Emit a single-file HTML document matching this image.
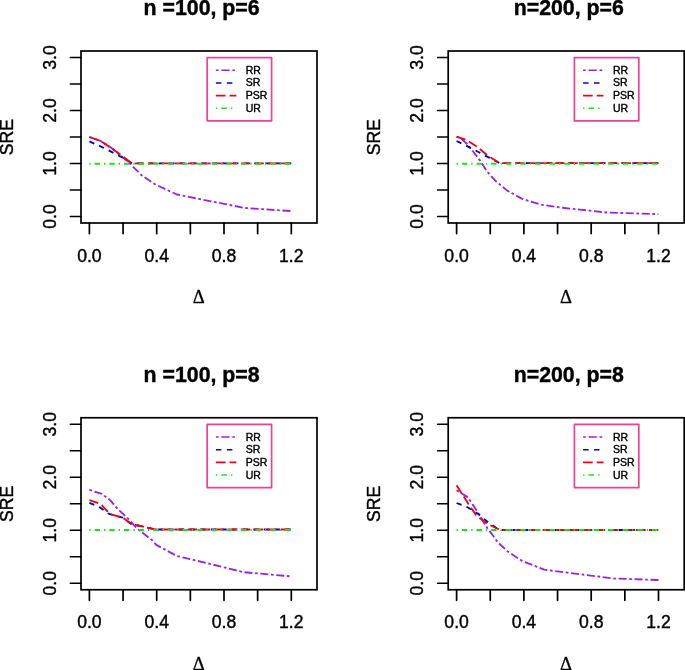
<!DOCTYPE html>
<html><head><meta charset="utf-8"><title>SRE plots</title>
<style>
html,body{margin:0;padding:0;background:#fff}
svg{display:block}
.s{font-family:"Liberation Sans",sans-serif;fill:#000;stroke:#000;stroke-width:0.4px}
.r{font-family:"Liberation Serif","DejaVu Serif",serif;fill:#000;stroke:#000;stroke-width:0.3px}
</style></head><body>
<svg width="685" height="670" viewBox="0 0 685 670">
<rect width="685" height="670" fill="#fff"/>
<g>
<rect x="81.00" y="51.00" width="236.00" height="172.00" fill="none" stroke="#000" stroke-width="1.7"/>
<path d="M89.40 223.00v10.55M123.05 223.00v10.55M156.70 223.00v10.55M190.35 223.00v10.55M224.00 223.00v10.55M257.65 223.00v10.55M291.30 223.00v10.55M81.00 216.50h-10.55M81.00 190.00h-10.55M81.00 163.50h-10.55M81.00 137.00h-10.55M81.00 110.50h-10.55M81.00 84.00h-10.55M81.00 57.50h-10.55" fill="none" stroke="#000" stroke-width="1.7" stroke-linecap="round"/>
<text x="89.40" y="261.70" font-size="17.6" text-anchor="middle" class="s">0.0</text>
<text x="156.70" y="261.70" font-size="17.6" text-anchor="middle" class="s">0.4</text>
<text x="224.00" y="261.70" font-size="17.6" text-anchor="middle" class="s">0.8</text>
<text x="291.30" y="261.70" font-size="17.6" text-anchor="middle" class="s">1.2</text>
<text transform="translate(55.60 216.50) rotate(-90)" font-size="17.6" text-anchor="middle" class="s">0.0</text>
<text transform="translate(55.60 163.50) rotate(-90)" font-size="17.6" text-anchor="middle" class="s">1.0</text>
<text transform="translate(55.60 110.50) rotate(-90)" font-size="17.6" text-anchor="middle" class="s">2.0</text>
<text transform="translate(55.60 57.50) rotate(-90)" font-size="17.6" text-anchor="middle" class="s">3.0</text>
<text x="198.80" y="303.30" font-size="18.6" text-anchor="middle" class="r">Δ</text>
<text transform="translate(12.80 137.20) rotate(-90)" font-size="17.6" text-anchor="middle" class="s">SRE</text>
<text x="201.60" y="15.30" font-size="21.3" text-anchor="middle" font-weight="bold" class="s">n =100, p=6</text>
<polyline points="89.4,137.0 100.6,140.9 111.3,147.8 119.5,154.6 130.2,163.9 141.9,175.5 155.0,184.3 176.9,194.5 210.0,201.1 245.0,208.0 291.3,211.1" fill="none" stroke="#9A22E6" stroke-width="1.85" stroke-dasharray="2.66,2.66,7.98,2.66" stroke-linejoin="round"/>
<polyline points="89.4,141.4 100.6,146.3 111.5,151.8 122.5,157.6 131.3,162.9 133.5,163.3 291.3,163.3" fill="none" stroke="#0000CD" stroke-width="1.85" stroke-dasharray="5.32,5.32" stroke-linejoin="round"/>
<polyline points="89.4,137.0 100.6,140.9 119.0,153.6 131.3,162.9 133.5,163.3 291.3,163.3" fill="none" stroke="#E8050F" stroke-width="1.85" stroke-dasharray="9.31,3.99" stroke-linejoin="round"/>
<path d="M89.40 163.70H291.30" fill="none" stroke="#14E614" stroke-width="2.05" stroke-dasharray="1.33,3.99,5.32,3.99"/>
<rect x="207.20" y="57.60" width="64.40" height="63.20" fill="#fff" stroke="#EF4193" stroke-width="1.7" stroke-linejoin="round"/>
<path d="M215.90 70.30h20.4" fill="none" stroke="#9A22E6" stroke-width="1.6" stroke-dasharray="2.74,2.74,8.22,2.74"/>
<text x="245.70" y="73.80" font-size="10.5" class="s">RR</text>
<path d="M215.90 82.95h20.4" fill="none" stroke="#0000CD" stroke-width="1.6" stroke-dasharray="5.48,5.48"/>
<text x="245.70" y="86.45" font-size="10.5" class="s">SR</text>
<path d="M215.90 95.60h20.4" fill="none" stroke="#E8050F" stroke-width="1.6" stroke-dasharray="9.59,4.11"/>
<text x="245.70" y="99.10" font-size="10.5" class="s">PSR</text>
<path d="M215.90 108.25h20.4" fill="none" stroke="#14E614" stroke-width="1.6" stroke-dasharray="1.37,4.11,5.48,4.11"/>
<text x="245.70" y="111.75" font-size="10.5" class="s">UR</text>
</g>
<g>
<rect x="448.20" y="51.00" width="236.00" height="172.00" fill="none" stroke="#000" stroke-width="1.7"/>
<path d="M456.60 223.00v10.55M490.25 223.00v10.55M523.90 223.00v10.55M557.55 223.00v10.55M591.20 223.00v10.55M624.85 223.00v10.55M658.50 223.00v10.55M448.20 216.50h-10.55M448.20 190.00h-10.55M448.20 163.50h-10.55M448.20 137.00h-10.55M448.20 110.50h-10.55M448.20 84.00h-10.55M448.20 57.50h-10.55" fill="none" stroke="#000" stroke-width="1.7" stroke-linecap="round"/>
<text x="456.60" y="261.70" font-size="17.6" text-anchor="middle" class="s">0.0</text>
<text x="523.90" y="261.70" font-size="17.6" text-anchor="middle" class="s">0.4</text>
<text x="591.20" y="261.70" font-size="17.6" text-anchor="middle" class="s">0.8</text>
<text x="658.50" y="261.70" font-size="17.6" text-anchor="middle" class="s">1.2</text>
<text transform="translate(422.80 216.50) rotate(-90)" font-size="17.6" text-anchor="middle" class="s">0.0</text>
<text transform="translate(422.80 163.50) rotate(-90)" font-size="17.6" text-anchor="middle" class="s">1.0</text>
<text transform="translate(422.80 110.50) rotate(-90)" font-size="17.6" text-anchor="middle" class="s">2.0</text>
<text transform="translate(422.80 57.50) rotate(-90)" font-size="17.6" text-anchor="middle" class="s">3.0</text>
<text x="566.00" y="303.30" font-size="18.6" text-anchor="middle" class="r">Δ</text>
<text transform="translate(380.00 137.20) rotate(-90)" font-size="17.6" text-anchor="middle" class="s">SRE</text>
<text x="568.80" y="15.30" font-size="21.3" text-anchor="middle" font-weight="bold" class="s">n=200, p=6</text>
<polyline points="456.6,136.6 462.0,139.3 467.0,144.0 472.3,150.4 479.3,159.6 482.0,163.5 487.3,171.9 496.0,181.4 507.7,190.9 522.3,198.9 541.3,204.7 561.8,207.7 580.0,209.6 606.5,212.5 658.5,214.2" fill="none" stroke="#9A22E6" stroke-width="1.85" stroke-dasharray="2.66,2.66,7.98,2.66" stroke-linejoin="round"/>
<polyline points="456.6,141.0 466.2,145.6 475.4,150.4 485.0,155.6 492.0,159.0 499.3,162.9 501.0,163.1 658.5,163.1" fill="none" stroke="#0000CD" stroke-width="1.85" stroke-dasharray="5.32,5.32" stroke-linejoin="round"/>
<polyline points="456.6,136.6 466.0,139.8 477.0,146.7 487.0,155.0 499.3,162.9 501.0,163.1 658.5,163.1" fill="none" stroke="#E8050F" stroke-width="1.85" stroke-dasharray="9.31,3.99" stroke-linejoin="round"/>
<path d="M456.60 163.75H658.50" fill="none" stroke="#14E614" stroke-width="2.05" stroke-dasharray="1.33,3.99,5.32,3.99"/>
<rect x="574.40" y="57.60" width="64.40" height="63.20" fill="#fff" stroke="#EF4193" stroke-width="1.7" stroke-linejoin="round"/>
<path d="M583.10 70.30h20.4" fill="none" stroke="#9A22E6" stroke-width="1.6" stroke-dasharray="2.74,2.74,8.22,2.74"/>
<text x="612.90" y="73.80" font-size="10.5" class="s">RR</text>
<path d="M583.10 82.95h20.4" fill="none" stroke="#0000CD" stroke-width="1.6" stroke-dasharray="5.48,5.48"/>
<text x="612.90" y="86.45" font-size="10.5" class="s">SR</text>
<path d="M583.10 95.60h20.4" fill="none" stroke="#E8050F" stroke-width="1.6" stroke-dasharray="9.59,4.11"/>
<text x="612.90" y="99.10" font-size="10.5" class="s">PSR</text>
<path d="M583.10 108.25h20.4" fill="none" stroke="#14E614" stroke-width="1.6" stroke-dasharray="1.37,4.11,5.48,4.11"/>
<text x="612.90" y="111.75" font-size="10.5" class="s">UR</text>
</g>
<g>
<rect x="81.00" y="417.75" width="236.00" height="172.00" fill="none" stroke="#000" stroke-width="1.7"/>
<path d="M89.40 589.75v10.55M123.05 589.75v10.55M156.70 589.75v10.55M190.35 589.75v10.55M224.00 589.75v10.55M257.65 589.75v10.55M291.30 589.75v10.55M81.00 583.25h-10.55M81.00 556.75h-10.55M81.00 530.25h-10.55M81.00 503.75h-10.55M81.00 477.25h-10.55M81.00 450.75h-10.55M81.00 424.25h-10.55" fill="none" stroke="#000" stroke-width="1.7" stroke-linecap="round"/>
<text x="89.40" y="628.45" font-size="17.6" text-anchor="middle" class="s">0.0</text>
<text x="156.70" y="628.45" font-size="17.6" text-anchor="middle" class="s">0.4</text>
<text x="224.00" y="628.45" font-size="17.6" text-anchor="middle" class="s">0.8</text>
<text x="291.30" y="628.45" font-size="17.6" text-anchor="middle" class="s">1.2</text>
<text transform="translate(55.60 583.25) rotate(-90)" font-size="17.6" text-anchor="middle" class="s">0.0</text>
<text transform="translate(55.60 530.25) rotate(-90)" font-size="17.6" text-anchor="middle" class="s">1.0</text>
<text transform="translate(55.60 477.25) rotate(-90)" font-size="17.6" text-anchor="middle" class="s">2.0</text>
<text transform="translate(55.60 424.25) rotate(-90)" font-size="17.6" text-anchor="middle" class="s">3.0</text>
<text x="198.80" y="670.05" font-size="18.6" text-anchor="middle" class="r">Δ</text>
<text transform="translate(12.80 503.95) rotate(-90)" font-size="17.6" text-anchor="middle" class="s">SRE</text>
<text x="201.60" y="382.05" font-size="21.3" text-anchor="middle" font-weight="bold" class="s">n =100, p=8</text>
<polyline points="89.4,489.9 101.7,493.8 109.9,499.9 118.0,509.2 127.4,518.0 134.4,525.6 139.1,530.2 151.9,540.0 156.3,544.9 176.7,555.9 210.0,563.9 243.6,572.2 291.3,576.4" fill="none" stroke="#9A22E6" stroke-width="1.85" stroke-dasharray="2.66,2.66,7.98,2.66" stroke-linejoin="round"/>
<polyline points="89.4,502.8 99.4,507.1 108.1,513.3 109.9,514.1 122.7,517.6 130.9,523.8 135.6,525.0 143.7,526.7 155.4,529.5 157.0,529.5 291.3,529.5" fill="none" stroke="#0000CD" stroke-width="1.85" stroke-dasharray="5.32,5.32" stroke-linejoin="round"/>
<polyline points="89.4,500.1 97.6,502.8 101.7,505.1 109.9,514.1 122.7,517.6 130.9,523.8 135.6,525.0 143.7,526.7 155.4,529.5 157.0,529.5 291.3,529.5" fill="none" stroke="#E8050F" stroke-width="1.85" stroke-dasharray="9.31,3.99" stroke-linejoin="round"/>
<path d="M89.40 530.05H291.30" fill="none" stroke="#14E614" stroke-width="2.05" stroke-dasharray="1.33,3.99,5.32,3.99"/>
<rect x="207.20" y="424.35" width="64.40" height="63.20" fill="#fff" stroke="#EF4193" stroke-width="1.7" stroke-linejoin="round"/>
<path d="M215.90 437.05h20.4" fill="none" stroke="#9A22E6" stroke-width="1.6" stroke-dasharray="2.74,2.74,8.22,2.74"/>
<text x="245.70" y="440.55" font-size="10.5" class="s">RR</text>
<path d="M215.90 449.70h20.4" fill="none" stroke="#0000CD" stroke-width="1.6" stroke-dasharray="5.48,5.48"/>
<text x="245.70" y="453.20" font-size="10.5" class="s">SR</text>
<path d="M215.90 462.35h20.4" fill="none" stroke="#E8050F" stroke-width="1.6" stroke-dasharray="9.59,4.11"/>
<text x="245.70" y="465.85" font-size="10.5" class="s">PSR</text>
<path d="M215.90 475.00h20.4" fill="none" stroke="#14E614" stroke-width="1.6" stroke-dasharray="1.37,4.11,5.48,4.11"/>
<text x="245.70" y="478.50" font-size="10.5" class="s">UR</text>
</g>
<g>
<rect x="448.20" y="417.75" width="236.00" height="172.00" fill="none" stroke="#000" stroke-width="1.7"/>
<path d="M456.60 589.75v10.55M490.25 589.75v10.55M523.90 589.75v10.55M557.55 589.75v10.55M591.20 589.75v10.55M624.85 589.75v10.55M658.50 589.75v10.55M448.20 583.25h-10.55M448.20 556.75h-10.55M448.20 530.25h-10.55M448.20 503.75h-10.55M448.20 477.25h-10.55M448.20 450.75h-10.55M448.20 424.25h-10.55" fill="none" stroke="#000" stroke-width="1.7" stroke-linecap="round"/>
<text x="456.60" y="628.45" font-size="17.6" text-anchor="middle" class="s">0.0</text>
<text x="523.90" y="628.45" font-size="17.6" text-anchor="middle" class="s">0.4</text>
<text x="591.20" y="628.45" font-size="17.6" text-anchor="middle" class="s">0.8</text>
<text x="658.50" y="628.45" font-size="17.6" text-anchor="middle" class="s">1.2</text>
<text transform="translate(422.80 583.25) rotate(-90)" font-size="17.6" text-anchor="middle" class="s">0.0</text>
<text transform="translate(422.80 530.25) rotate(-90)" font-size="17.6" text-anchor="middle" class="s">1.0</text>
<text transform="translate(422.80 477.25) rotate(-90)" font-size="17.6" text-anchor="middle" class="s">2.0</text>
<text transform="translate(422.80 424.25) rotate(-90)" font-size="17.6" text-anchor="middle" class="s">3.0</text>
<text x="566.00" y="670.05" font-size="18.6" text-anchor="middle" class="r">Δ</text>
<text transform="translate(380.00 503.95) rotate(-90)" font-size="17.6" text-anchor="middle" class="s">SRE</text>
<text x="568.80" y="382.05" font-size="21.3" text-anchor="middle" font-weight="bold" class="s">n=200, p=8</text>
<polyline points="456.6,490.2 468.0,497.5 476.3,510.0 487.4,528.2 492.6,535.0 497.5,542.0 507.7,551.5 522.3,561.0 544.2,569.7 579.3,574.1 613.8,578.5 658.5,580.0" fill="none" stroke="#9A22E6" stroke-width="1.85" stroke-dasharray="2.66,2.66,7.98,2.66" stroke-linejoin="round"/>
<polyline points="456.6,503.0 468.0,507.5 479.0,514.5 488.0,522.3 498.0,529.0 502.0,530.0 658.5,530.0" fill="none" stroke="#0000CD" stroke-width="1.85" stroke-dasharray="5.32,5.32" stroke-linejoin="round"/>
<polyline points="456.6,485.3 467.8,503.0 476.0,515.0 487.0,523.5 498.0,529.0 502.0,530.0 658.5,530.0" fill="none" stroke="#E8050F" stroke-width="1.85" stroke-dasharray="9.31,3.99" stroke-linejoin="round"/>
<path d="M456.60 530.05H658.50" fill="none" stroke="#14E614" stroke-width="2.05" stroke-dasharray="1.33,3.99,5.32,3.99"/>
<rect x="574.40" y="424.35" width="64.40" height="63.20" fill="#fff" stroke="#EF4193" stroke-width="1.7" stroke-linejoin="round"/>
<path d="M583.10 437.05h20.4" fill="none" stroke="#9A22E6" stroke-width="1.6" stroke-dasharray="2.74,2.74,8.22,2.74"/>
<text x="612.90" y="440.55" font-size="10.5" class="s">RR</text>
<path d="M583.10 449.70h20.4" fill="none" stroke="#0000CD" stroke-width="1.6" stroke-dasharray="5.48,5.48"/>
<text x="612.90" y="453.20" font-size="10.5" class="s">SR</text>
<path d="M583.10 462.35h20.4" fill="none" stroke="#E8050F" stroke-width="1.6" stroke-dasharray="9.59,4.11"/>
<text x="612.90" y="465.85" font-size="10.5" class="s">PSR</text>
<path d="M583.10 475.00h20.4" fill="none" stroke="#14E614" stroke-width="1.6" stroke-dasharray="1.37,4.11,5.48,4.11"/>
<text x="612.90" y="478.50" font-size="10.5" class="s">UR</text>
</g>
</svg>
</body></html>
